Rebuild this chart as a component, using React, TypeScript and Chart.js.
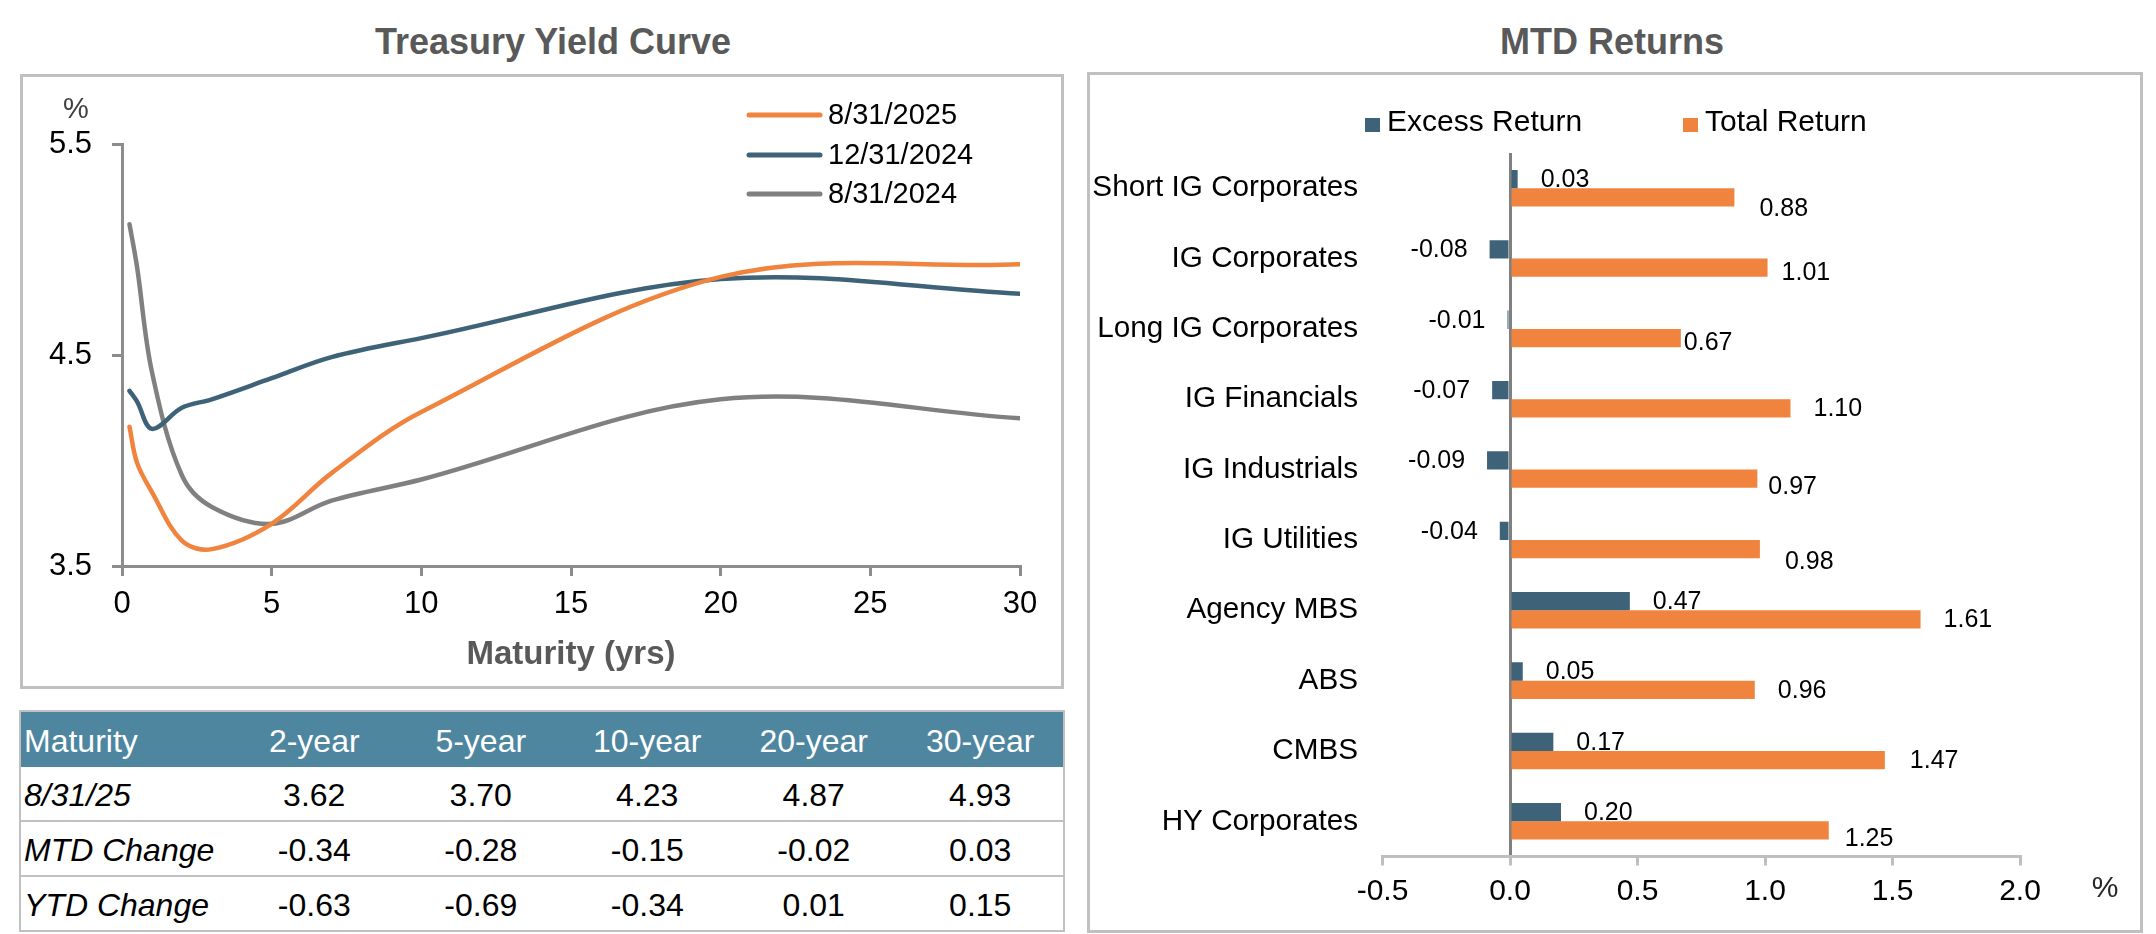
import React, { useEffect, useRef } from 'react';
import { Chart, registerables } from 'chart.js';

Chart.register(...registerables);

const FONT = "'Liberation Sans', Arial, Helvetica, sans-serif";

// ---------- Treasury yield curve data ----------
const maturities = [0.25, 0.5, 1, 2, 3, 5, 7, 10, 20, 30];
const yieldsAug2025 = [4.16, 3.99, 3.85, 3.62, 3.58, 3.70, 3.94, 4.23, 4.87, 4.93];
const yieldsDec2024 = [4.33, 4.28, 4.15, 4.25, 4.29, 4.39, 4.49, 4.58, 4.86, 4.79];
const yieldsAug2024 = [5.12, 4.92, 4.42, 3.93, 3.78, 3.70, 3.81, 3.91, 4.29, 4.20];
const curveLabels = ['8/31/2025', '12/31/2024', '8/31/2024'];
const maturityTicks = [0, 5, 10, 15, 20, 25, 30];
const yieldTicks = [3.5, 4.5, 5.5];

// ---------- Table data ----------
const tableHeader = ['Maturity', '2-year', '5-year', '10-year', '20-year', '30-year'];
const tableRowLabels = ['8/31/25', 'MTD Change', 'YTD Change'];
const tableLevels = ['3.62', '3.70', '4.23', '4.87', '4.93'];
const tableMtdChange = ['-0.34', '-0.28', '-0.15', '-0.02', '0.03'];
const tableYtdChange = ['-0.63', '-0.69', '-0.34', '0.01', '0.15'];

// ---------- MTD returns data ----------
const sectors = [
  'Short IG Corporates',
  'IG Corporates',
  'Long IG Corporates',
  'IG Financials',
  'IG Industrials',
  'IG Utilities',
  'Agency MBS',
  'ABS',
  'CMBS',
  'HY Corporates',
];
const excessReturn = [0.03, -0.08, -0.01, -0.07, -0.09, -0.04, 0.47, 0.05, 0.17, 0.2];
const totalReturn = [0.88, 1.01, 0.67, 1.1, 0.97, 0.98, 1.61, 0.96, 1.47, 1.25];
const returnTicks = [-0.5, 0, 0.5, 1, 1.5, 2];
const returnSeriesLabels = ['Excess Return', 'Total Return'];

// styling (label nudges for total-return data labels, px)
const totalLabelNudge: [number, number][] = [
  [2, 11], [-9, 4], [-20, 4], [0, 0], [-12, 7], [2, 12], [0, 0], [0, 0], [2, 0], [-7, 8],
];

const ORANGE = '#F0843F';
const BLUE = '#3E6277';
const GRAY = '#808080';
const curveColors = [ORANGE, BLUE, GRAY];
const AXIS_LEFT = '#8C8C8C';
const AXIS_RIGHT = '#BFBFBF';
const BOX = '#C0C0C0';

function YieldChart() {
  const ref = useRef<HTMLCanvasElement>(null);
  useEffect(() => {
    const canvas = ref.current!;
    const series = [yieldsAug2025, yieldsDec2024, yieldsAug2024];
    const overlay = {
      id: 'yieldOverlay',
      afterDraw(chart: any) {
        const ctx = chart.ctx;
        const ca = chart.chartArea;
        ctx.save();
        // legend
        ctx.font = `29px ${FONT}`;
        ctx.textBaseline = 'middle';
        ctx.textAlign = 'left';
        const rows = [38, 78, 117];
        curveLabels.forEach((lab, k) => {
          ctx.strokeStyle = curveColors[k];
          ctx.lineWidth = 5;
          ctx.lineCap = 'round';
          ctx.beginPath();
          ctx.moveTo(726, rows[k]);
          ctx.lineTo(797, rows[k]);
          ctx.stroke();
          ctx.fillStyle = '#000';
          ctx.fillText(lab, 805, rows[k] + 1);
        });
        // % unit
        ctx.fillStyle = '#404040';
        ctx.textAlign = 'center';
        ctx.fillText('%', ca.left - 46, 33);
        // axis title
        ctx.font = `bold 33px ${FONT}`;
        ctx.fillStyle = '#595959';
        ctx.fillText('Maturity (yrs)', (ca.left + ca.right) / 2, 578);
        ctx.restore();
      },
    };
    const chart = new Chart(canvas, {
      type: 'line',
      data: {
        datasets: series.map((ys, k) => ({
          label: curveLabels[k],
          data: maturities.map((m, i) => ({ x: m, y: ys[i] })),
          borderColor: curveColors[k],
          backgroundColor: curveColors[k],
          borderWidth: 4.5,
          pointRadius: 0,
          tension: 0.35,
          fill: false,
          borderCapStyle: 'round',
          borderJoinStyle: 'round',
        })),
      },
      options: {
        responsive: false,
        animation: false,
        events: [],
        layout: { padding: { top: 67, right: 41, left: 0, bottom: 0 } },
        plugins: { legend: { display: false }, tooltip: { enabled: false } },
        scales: {
          x: {
            type: 'linear',
            min: 0,
            max: 30,
            afterBuildTicks: (s: any) => {
              s.ticks = maturityTicks.map((v) => ({ value: v }));
            },
            afterFit: (s: any) => {
              s.height = 120;
            },
            grid: { drawOnChartArea: false, drawTicks: true, tickLength: 10, color: AXIS_LEFT, lineWidth: 3 },
            border: { color: AXIS_LEFT, width: 3 },
            ticks: {
              font: { family: FONT, size: 31 },
              color: '#000',
              padding: 10,
              maxRotation: 0,
              autoSkip: false,
              callback: (v: any) => String(v),
            },
          },
          y: {
            type: 'linear',
            min: 3.5,
            max: 5.5,
            afterBuildTicks: (s: any) => {
              s.ticks = yieldTicks.map((v) => ({ value: v }));
            },
            afterFit: (s: any) => {
              s.width = 99;
            },
            grid: { drawOnChartArea: false, drawTicks: true, tickLength: 10, color: AXIS_LEFT, lineWidth: 3 },
            border: { color: AXIS_LEFT, width: 3 },
            ticks: {
              font: { family: FONT, size: 31 },
              color: '#000',
              padding: 20,
              autoSkip: false,
              callback: (v: any) => Number(v).toFixed(1),
            },
          },
        },
      } as any,
      plugins: [overlay],
    });
    return () => chart.destroy();
  }, []);
  return (
    <canvas
      ref={ref}
      width={1038}
      height={609}
      style={{ position: 'absolute', left: 23, top: 77, width: 1038, height: 609 }}
    />
  );
}

function ReturnsChart() {
  const ref = useRef<HTMLCanvasElement>(null);
  useEffect(() => {
    const canvas = ref.current!;
    const overlay = {
      id: 'returnsOverlay',
      afterDraw(chart: any) {
        const ctx = chart.ctx;
        ctx.save();
        // legend
        ctx.font = `30px ${FONT}`;
        ctx.textBaseline = 'middle';
        ctx.textAlign = 'left';
        const items = [
          { sx: 275, tx: 297, color: BLUE },
          { sx: 593, tx: 615, color: ORANGE },
        ];
        items.forEach((it, k) => {
          ctx.fillStyle = it.color;
          ctx.fillRect(it.sx, 43, 15, 14);
          ctx.fillStyle = '#000';
          ctx.fillText(returnSeriesLabels[k], it.tx, 48);
        });
        // unit
        ctx.fillStyle = '#262626';
        ctx.textAlign = 'center';
        ctx.font = `30px ${FONT}`;
        ctx.fillText('%', 1015, 814);
        // data labels
        ctx.font = `25px ${FONT}`;
        ctx.fillStyle = '#000';
        chart.data.datasets.forEach((ds: any, di: number) => {
          const meta = chart.getDatasetMeta(di);
          meta.data.forEach((bar: any, i: number) => {
            const v = ds.data[i] as number;
            const { x, y } = bar.getProps(['x', 'y'], true);
            const txt = v.toFixed(2);
            const nudge = di === 1 ? totalLabelNudge[i] : [0, 0];
            if (v >= 0) {
              ctx.textAlign = 'left';
              ctx.fillText(txt, x + 23 + nudge[0], y + 1 + nudge[1]);
            } else {
              ctx.textAlign = 'right';
              ctx.fillText(txt, x - 22, y + 1);
            }
          });
        });
        ctx.restore();
      },
    };
    const chart = new Chart(canvas, {
      type: 'bar',
      data: {
        labels: sectors,
        datasets: [
          {
            label: returnSeriesLabels[0],
            data: excessReturn,
            backgroundColor: BLUE,
            categoryPercentage: 0.52,
            barPercentage: 1,
          },
          {
            label: returnSeriesLabels[1],
            data: totalReturn,
            backgroundColor: ORANGE,
            categoryPercentage: 0.52,
            barPercentage: 1,
          },
        ],
      },
      options: {
        indexAxis: 'y',
        responsive: false,
        animation: false,
        events: [],
        layout: { padding: { top: 78, right: 120, left: 0, bottom: 0 } },
        plugins: { legend: { display: false }, tooltip: { enabled: false } },
        scales: {
          x: {
            type: 'linear',
            min: -0.5,
            max: 2,
            z: 1,
            afterBuildTicks: (s: any) => {
              s.ticks = returnTicks.map((v) => ({ value: v }));
            },
            afterFit: (s: any) => {
              s.height = 73.5;
            },
            grid: {
              drawOnChartArea: true,
              drawTicks: true,
              tickLength: 9,
              lineWidth: 3,
              color: (c: any) => (c.tick && c.tick.value === 0 ? '#808080' : 'rgba(0,0,0,0)'),
              tickColor: AXIS_RIGHT,
              tickWidth: 3,
            },
            border: { color: AXIS_RIGHT, width: 3 },
            ticks: {
              font: { family: FONT, size: 30 },
              color: '#000',
              padding: 8.5,
              maxRotation: 0,
              autoSkip: false,
              callback: (v: any) => Number(v).toFixed(1),
            },
          },
          y: {
            type: 'category',
            afterFit: (s: any) => {
              s.width = 292.5;
            },
            grid: { display: false, drawTicks: false },
            border: { display: false },
            ticks: {
              font: { family: FONT, size: 29.7 },
              color: '#000',
              padding: 24.5,
              autoSkip: false,
            },
          },
        },
      } as any,
      plugins: [overlay],
    });
    return () => chart.destroy();
  }, []);
  return (
    <canvas
      ref={ref}
      width={1050}
      height={855}
      style={{ position: 'absolute', left: 1090, top: 75, width: 1050, height: 855 }}
    />
  );
}

function YieldTable() {
  const rows = [tableLevels, tableMtdChange, tableYtdChange];
  const colW = [210, 166.5, 166.5, 166.5, 166.5, 166.5];
  const cell = (k: number): React.CSSProperties => ({
    width: colW[k],
    flex: 'none',
    textAlign: k === 0 ? 'left' : 'center',
    paddingLeft: k === 0 ? 3 : 0,
    boxSizing: 'border-box',
    whiteSpace: 'nowrap',
  });
  return (
    <div
      style={{
        position: 'absolute',
        left: 19,
        top: 710,
        width: 1046,
        height: 222,
        borderLeft: `2px solid ${BOX}`,
        borderRight: `2px solid ${BOX}`,
        borderTop: `2px solid ${BOX}`,
        boxSizing: 'border-box',
        fontFamily: FONT,
        fontSize: 32,
        color: '#000',
      }}
    >
      <div
        style={{
          position: 'absolute',
          left: 0,
          top: 0,
          width: 1042,
          height: 55,
          background: '#4E86A0',
          color: '#fff',
          display: 'flex',
          alignItems: 'center',
          paddingTop: 4,
          boxSizing: 'border-box',
        }}
      >
        {tableHeader.map((h, k) => (
          <div key={k} style={cell(k)}>
            {h}
          </div>
        ))}
      </div>
      {rows.map((vals, r) => (
        <div
          key={r}
          style={{
            position: 'absolute',
            left: 0,
            top: 55 + r * 55,
            width: 1042,
            height: 55,
            display: 'flex',
            alignItems: 'center',
            borderBottom: `2px solid ${BOX}`,
            paddingTop: 4,
            boxSizing: 'border-box',
          }}
        >
          <div style={{ ...cell(0), fontStyle: 'italic' }}>{tableRowLabels[r]}</div>
          {vals.map((v, k) => (
            <div key={k} style={cell(k + 1)}>
              {v}
            </div>
          ))}
        </div>
      ))}
    </div>
  );
}

export default function App() {
  const titleStyle: React.CSSProperties = {
    position: 'absolute',
    top: 24,
    fontFamily: FONT,
    fontWeight: 'bold',
    fontSize: 36,
    lineHeight: '36px',
    color: '#595959',
    textAlign: 'center',
    whiteSpace: 'nowrap',
  };
  return (
    <div
      style={{
        position: 'absolute',
        left: 0,
        top: 0,
        width: 2156,
        height: 934,
        background: '#fff',
        overflow: 'hidden',
      }}
    >
      <div style={{ ...titleStyle, left: 53, width: 1000 }}>Treasury Yield Curve</div>
      <div style={{ ...titleStyle, left: 1112, width: 1000 }}>MTD Returns</div>
      <div
        style={{
          position: 'absolute',
          left: 20,
          top: 74,
          width: 1044,
          height: 615,
          border: `3px solid ${BOX}`,
          boxSizing: 'border-box',
        }}
      />
      <div
        style={{
          position: 'absolute',
          left: 1087,
          top: 72,
          width: 1056,
          height: 861,
          border: `3px solid ${BOX}`,
          boxSizing: 'border-box',
        }}
      />
      <YieldChart />
      <YieldTable />
      <ReturnsChart />
    </div>
  );
}
